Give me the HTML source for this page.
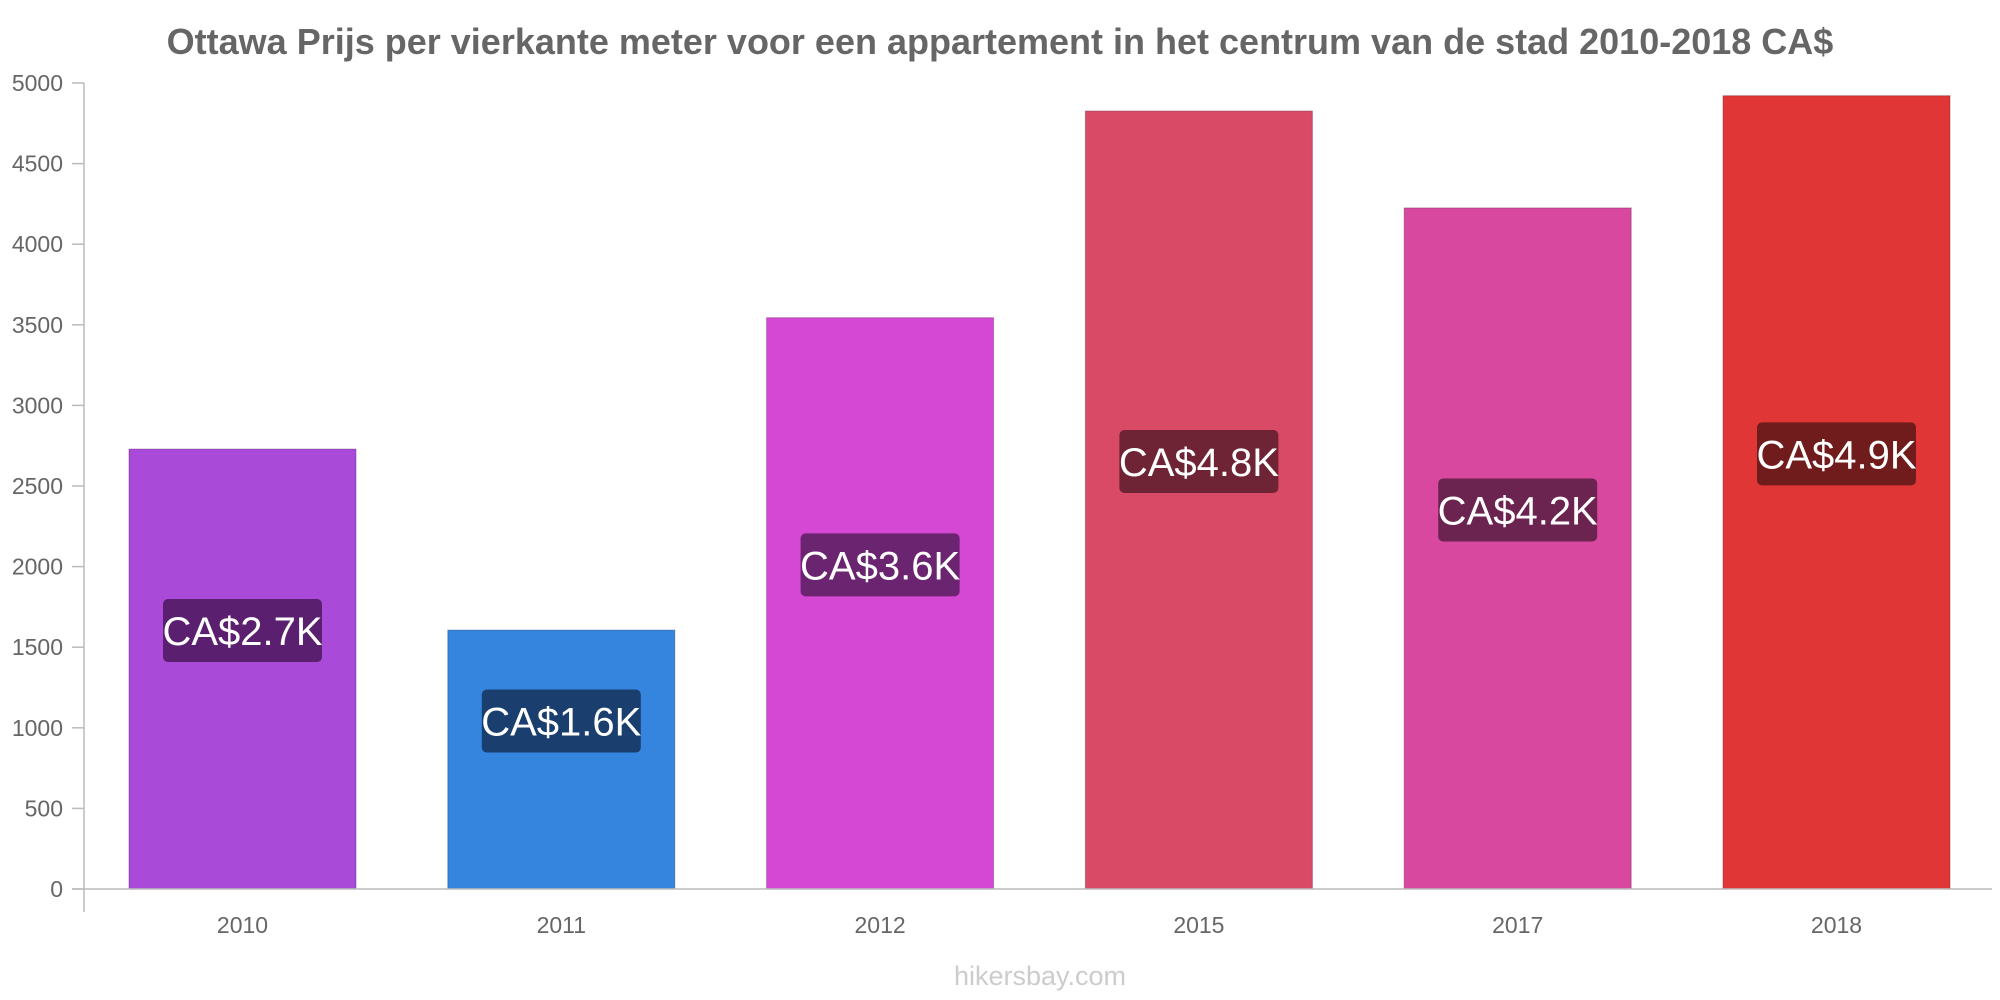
<!DOCTYPE html>
<html><head><meta charset="utf-8"><style>
html,body{margin:0;padding:0;background:#fff;}
svg{display:block;font-family:"Liberation Sans",Arial,sans-serif;}
</style></head><body>
<svg id="chart" width="2000" height="1000" viewBox="0 0 2000 1000" xmlns="http://www.w3.org/2000/svg">
<text x="1000" y="54" text-anchor="middle" font-size="36" font-weight="bold" fill="#666">Ottawa Prijs per vierkante meter voor een appartement in het centrum van de stad 2010-2018 CA$</text>
<g id="yaxis"></g>
<g id="bars"></g>
<g id="xaxis"></g>
<text x="1040" y="985" text-anchor="middle" font-size="27" fill="#ccc">hikersbay.com</text>
</svg>
<script>
const categories = ["2010","2011","2012","2015","2017","2018"];
const values = [2729, 1606, 3544, 4826, 4225, 4921];
const valueLabels = ["CA$2.7K","CA$1.6K","CA$3.6K","CA$4.8K","CA$4.2K","CA$4.9K"];
const yTicks = [0,500,1000,1500,2000,2500,3000,3500,4000,4500,5000];
const barColors = ["#a94ad8","#3584de","#d548d4","#d94a66","#d7489e","#e03636"];
const labelColors = ["#5a1f6e","#1a3f6e","#6b2470","#6e2434","#6b2350","#701c1c"];

const NS="http://www.w3.org/2000/svg";
const x0=84, x1=1992, y0=889, yTop=83, yMax=5000;
const band=318.8, barW=227, barOff=45;
function y(v){return y0-(v/yMax)*(y0-yTop);}
function bx(i){return x0+i*band+barOff;}
function mk(tag,attrs,parent){const e=document.createElementNS(NS,tag);for(const k in attrs)e.setAttribute(k,attrs[k]);parent.appendChild(e);return e;}

const ya=document.getElementById('yaxis'), xa=document.getElementById('xaxis'), bg=document.getElementById('bars');
let l=mk('line',{x1:x0,y1:yTop,x2:x0,y2:912,stroke:'#bbb','stroke-width':1.5},ya);


yTicks.forEach(t=>{
  const tk=mk('line',{x1:x0-12,y1:y(t),x2:x0,y2:y(t),stroke:'#bbb','stroke-width':1.5},ya);
  
  
  const tx=mk('text',{x:63,y:y(t)+8,'text-anchor':'end','font-size':23,fill:'#666'},ya);
  
  
  tx.textContent=t;
});
l=mk('line',{x1:x0-12,y1:y0,x2:x1,y2:y0,stroke:'#bbb','stroke-width':1.5},xa);


categories.forEach((c,i)=>{
  const v=values[i], top=y(v), cx=bx(i)+barW/2;
  const r=mk('rect',{x:bx(i),y:top,width:barW,height:y0-top,fill:barColors[i],stroke:labelColors[i],'stroke-opacity':0.4,'stroke-width':1},bg);
  
  
  const ly=(top+y0)/2-38;
  const lbl=valueLabels[i];
  const w=lbl.length*21+12;
  const b=mk('rect',{x:cx-w/2,y:ly-32,width:w,height:63,rx:5,fill:labelColors[i]},bg);
  
  
  const t=mk('text',{x:cx,y:ly+14,'text-anchor':'middle','font-size':40,fill:'#fff'},bg);
  
  
  t.textContent=lbl;
  const xt=mk('text',{x:cx,y:933,'text-anchor':'middle','font-size':23,fill:'#666'},xa);
  
  
  xt.textContent=c;
});
</script>
</body></html>
